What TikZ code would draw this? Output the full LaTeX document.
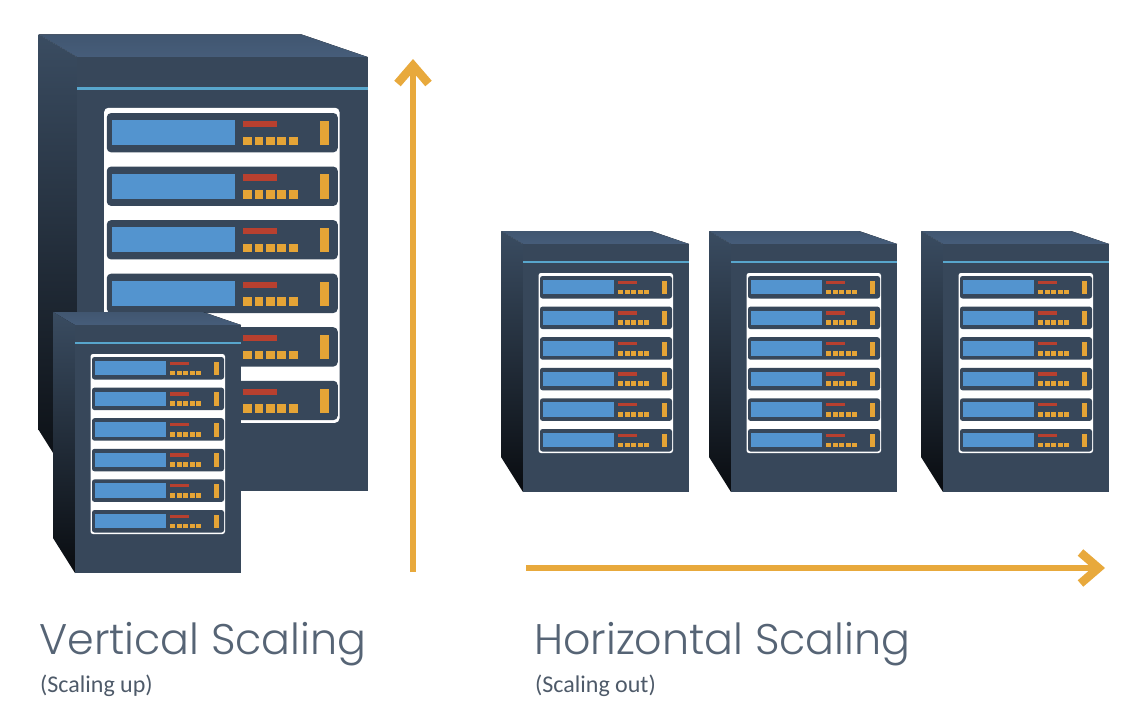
\documentclass[tikz,border=0pt]{standalone}
\usepackage{fontspec}
\setmainfont{Carlito}
\newfontfamily\titlefont{Poppins Light}
\usetikzlibrary{arrows.meta}
\definecolor{rackfront}{HTML}{37475A}
\definecolor{racktop}{HTML}{465D7A}
\definecolor{racktopdark}{HTML}{415670}
\definecolor{rackside}{HTML}{3A4C61}
\definecolor{racksidedark}{HTML}{090C10}
\definecolor{rackline}{HTML}{58A6CC}
\definecolor{unitblue}{HTML}{5394CF}
\definecolor{unitred}{HTML}{B8402F}
\definecolor{unityellow}{HTML}{E5A436}
\definecolor{arroworange}{HTML}{E8A93C}
\definecolor{labelgray}{HTML}{566475}
\tikzset{
  scalearrow/.style={draw=arroworange, line width=6.5pt, -{Straight Barb[length=18pt, width=31pt, line width=8.5pt]}},
  bigtitle/.style={anchor=base west, inner sep=0pt, text=labelgray, font=\titlefont\fontsize{42.8}{43}\selectfont},
  smalltitle/.style={anchor=base west, inner sep=0pt, text=labelgray!90!black, font=\fontsize{24}{24}\selectfont}
}
% #1,#2 = top left corner of the front face, #3 = scale
\newcommand{\serverrack}[3]{
\begin{scope}[shift={(#1,#2)},scale=#3]
\fill[top color=racktopdark, bottom color=racktop] (-22,-13)--(128,-13)--(166,0)--(0,0)--cycle;
\shade[top color=rackside, bottom color=racksidedark] (-22,-13)--(0,0)--(0,248)--(-22,213)--cycle;
\fill[rackfront] (0,0) rectangle (166,248);
\draw[rackline, line width=#3*1.3pt] (0,18)--(166,18);
\fill[white, rounded corners=#3*2.5pt] (15.5,29) rectangle (150,209);
\foreach \uy in {32,62.6,93.2,123.8,154.4,185} {
  \fill[rackfront, rounded corners=#3*2.5pt] (17,\uy) rectangle (149,\uy+22.5);
  \fill[unitblue] (20,\uy+4) rectangle (90.5,\uy+18.3);
  \fill[unitred] (95,\uy+4.5) rectangle (114,\uy+8);
  \foreach \sx in {95,101.5,108,114.5,121} {
    \fill[unityellow] (\sx,\uy+13.5) rectangle (\sx+5,\uy+18.3);
  }
  \fill[unityellow] (139,\uy+4.5) rectangle (144,\uy+18.3);
}
\end{scope}
}

\begin{document}
\begin{tikzpicture}[x=1pt,y=-1pt]
\useasboundingbox (0,0) rectangle (1147,720);
\serverrack{77}{57}{1.75}
\serverrack{75}{325}{1}
\serverrack{523}{244}{1}
\serverrack{731}{244}{1}
\serverrack{943}{244}{1}
\coordinate (upstart) at (413,572);
\coordinate (upend) at (413,59);
\coordinate (outstart) at (526,568);
\coordinate (outend) at (1105,568);
\draw[scalearrow] (upstart)--(upend);
\draw[scalearrow] (outstart)--(outend);
\node[bigtitle] (vertical) at (39,654) {Vertical Scaling};
\node[smalltitle] (up) at (40,692) {(Scaling up)};
\node[bigtitle] (horizontal) at (534,654) {Horizontal Scaling};
\node[smalltitle] (out) at (535,692) {(Scaling out)};
\end{tikzpicture}
\end{document}
